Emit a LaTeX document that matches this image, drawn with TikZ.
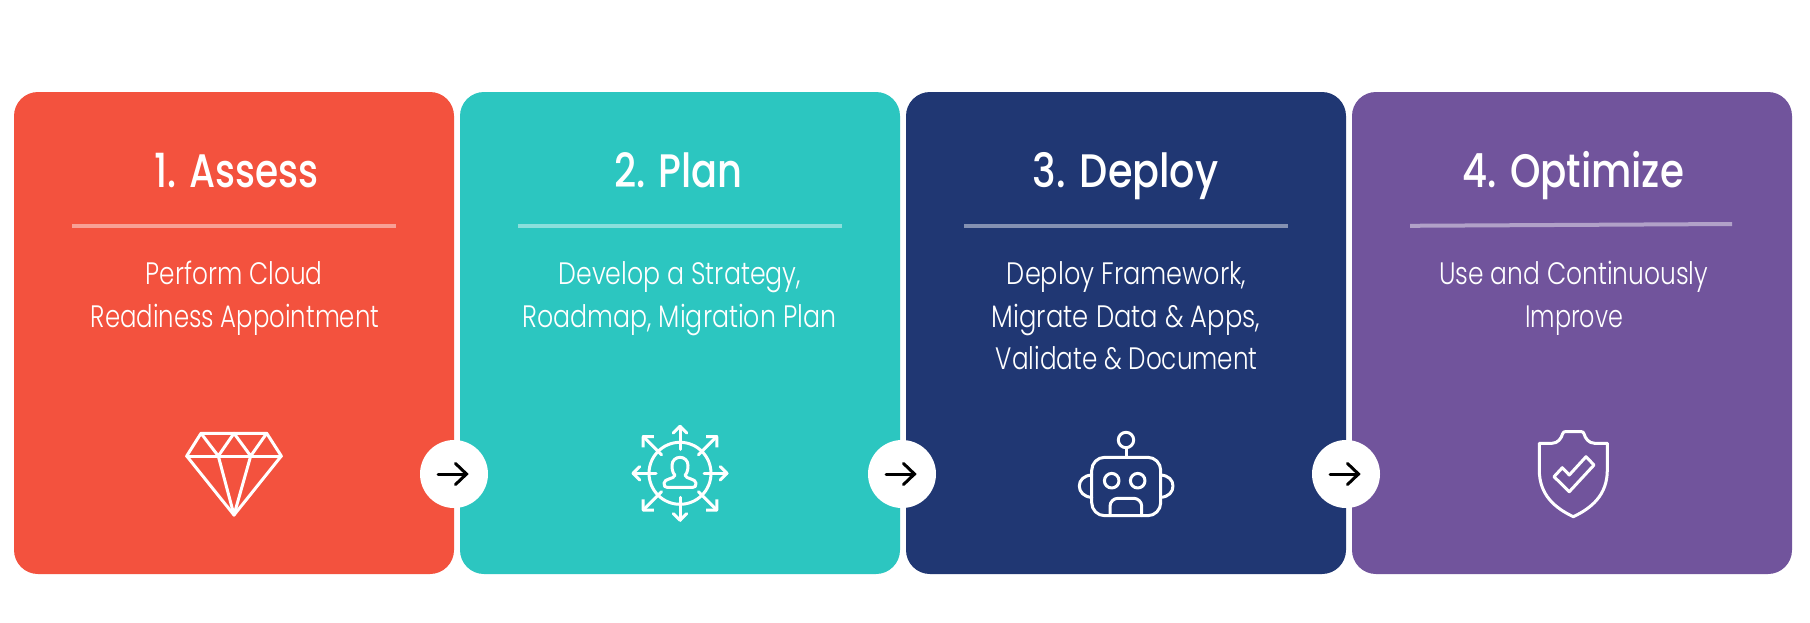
\documentclass[tikz,border=0pt]{standalone}
\usepackage{fontspec}
\usepackage{graphicx}
\setmainfont{Poppins Medium}
\newfontfamily\bodyfont{Poppins Light}
\definecolor{cred}{HTML}{F3523E}
\definecolor{cteal}{HTML}{2CC6C0}
\definecolor{cnavy}{HTML}{203773}
\definecolor{cpurple}{HTML}{71549C}
\newcommand{\fitw}[2]{\sbox0{#2}\pgfmathsetmacro{\fitratio}{#1/\the\wd0}\scalebox{\fitratio}[1]{#2}}
\tikzset{
  cardbox/.style={rectangle,rounded corners=24pt,minimum width=440pt,minimum height=482pt,inner sep=0pt,draw=none,fill=#1},
  titletext/.style={anchor=base west,inner sep=0pt,text=white,font=\fontsize{47}{47}\selectfont},
  bodytext/.style={anchor=base west,inner sep=0pt,text=white,font=\bodyfont\fontsize{31}{31}\selectfont},
  rulebar/.style={white,opacity=.45,line width=4pt},
  icon/.style={white,line width=3pt,line cap=round,line join=round},
  arrowdisc/.style={circle,fill=white,draw=none,minimum size=68pt,inner sep=0pt},
  arrowline/.style={black,line width=3pt,line cap=round,line join=miter}
}
\begin{document}
\begin{tikzpicture}[x=1pt,y=-1pt]
\useasboundingbox (0,0) rectangle (1810,622);
\fill[white] (0,0) rectangle (1810,622);
% cards
\node[cardbox=cred]    (card1) at (234,333) {};
\node[cardbox=cteal]   (card2) at (680,333) {};
\node[cardbox=cnavy]   (card3) at (1126,333) {};
\node[cardbox=cpurple] (card4) at (1572,333) {};
% titles
\node[titletext] (t1) at (154,187) {\fitw{164.3}{1. Assess}};
\node[titletext] (t2) at (614,187) {\fitw{128.7}{2. Plan}};
\node[titletext] (t3) at (1032.7,187) {\fitw{185.6}{3. Deploy}};
\node[titletext] (t4) at (1462,187) {\fitw{222}{4. Optimize}};
% rules
\draw[rulebar] (72,226) -- (396,226);
\draw[rulebar] (518,226) -- (842,226);
\draw[rulebar] (964,226) -- (1288,226);
\draw[rulebar] (1410,225.8) -- (1732,224);
% body
\node[bodytext] (b11) at (145.7,284) {\fitw{176.6}{Perform Cloud}};
\node[bodytext] (b12) at (90.7,327) {\fitw{288.3}{Readiness Appointment}};
\node[bodytext] (b21) at (558.3,284) {\fitw{242.4}{Develop a Strategy,}};
\node[bodytext] (b22) at (522.3,327) {\fitw{313.7}{Roadmap, Migration Plan}};
\node[bodytext] (b31) at (1006.7,284) {\fitw{239.3}{Deploy Framework,}};
\node[bodytext] (b32) at (991.7,327) {\fitw{268.3}{Migrate Data \& Apps,}};
\node[bodytext] (b33) at (995.7,369) {\fitw{261.6}{Validate \& Document}};
\node[bodytext] (b41) at (1439,284) {\fitw{269}{Use and Continuously}};
\node[bodytext] (b42) at (1525,327) {\fitw{98}{Improve}};
% arrow discs
\node[arrowdisc] (d1) at (454,474) {};
\node[arrowdisc] (d2) at (902,474) {};
\node[arrowdisc] (d3) at (1346,474) {};
\foreach \n in {d1,d2,d3}{
  \draw[arrowline] ([xshift=-16pt]\n.center) -- ([xshift=12.5pt]\n.center);
  \draw[arrowline] ([shift={(1.5pt,-10.5pt)}]\n.center) -- ([xshift=12.5pt]\n.center) -- ([shift={(1.5pt,10.5pt)}]\n.center);
}
% diamond
\draw[icon] (201,433.3) -- (266.7,433.3) -- (281.3,456) -- (234,515) -- (186.7,456) -- cycle;
\draw[icon] (186.7,456) -- (281.3,456);
\draw[icon] (201,433.3) -- (218.3,456) -- (234,433.3) -- (250.7,456) -- (266.7,433.3);
\draw[icon] (218.3,456) -- (234,515) -- (250.7,456);
% plan icon
\begin{scope}[shift={(680,473.3)}]
  \draw[icon] (0,0) circle (31);
  \foreach \a in {0,90,180,270}{
    \begin{scope}[rotate=\a]
      \draw[icon] (24,0) -- (47,0);
      \draw[icon] (40.3,-6.7) -- (47,0) -- (40.3,6.7);
    \end{scope}
  }
  \foreach \a in {45,135,225,315}{
    \begin{scope}[rotate=\a]
      \draw[icon] (26,0) -- (52,0);
      \draw[icon,line cap=butt] (44.4,-7.6) -- (52,0) -- (44.4,7.6);
    \end{scope}
  }
  \draw[icon] (-5,2) .. controls (-8,-1) and (-8,-6) .. (-8,-8) .. controls (-8,-13) and (-4,-16) .. (0,-16) .. controls (4,-16) and (8,-13) .. (8,-8) .. controls (8,-6) and (8,-1) .. (5,2) .. controls (6,6) and (16,5) .. (16,10) .. controls (16,13) and (15,14) .. (13,14) -- (-13,14) .. controls (-15,14) and (-16,13) .. (-16,10) .. controls (-16,5) and (-6,6) .. (-5,2) -- cycle;
\end{scope}
% robot
\draw[icon] (1126,440) circle (7.7);
\draw[icon] (1126,447.7) -- (1126,457.3);
\draw[icon,rounded corners=13pt] (1091.7,457.3) rectangle (1160.7,515.7);
\draw[icon] (1111.7,480.7) circle (7.3);
\draw[icon] (1137.7,480.7) circle (7.3);
\draw[icon] (1110,515.7) -- (1110,506.3) arc[start angle=180,end angle=270,radius=8] -- (1133.7,498.3) arc[start angle=270,end angle=360,radius=8] -- (1141.7,515.7);
\draw[icon] (1091.7,475) .. controls (1084,475.5) and (1079.3,480) .. (1079.3,486) .. controls (1079.3,492) and (1084,497) .. (1091.7,497.3);
\draw[icon] (1160.7,475) .. controls (1168.4,475.5) and (1173,480) .. (1173,486) .. controls (1173,492) and (1168.4,497) .. (1160.7,497.3);
% shield
\draw[icon] (1573.3,516.7) .. controls (1555,508) and (1539.3,495) .. (1539.3,470) -- (1539.3,443.3) -- (1552,443.3) .. controls (1558,443.3) and (1561.5,438) .. (1562.5,434) .. controls (1563,432.3) and (1564,431.7) .. (1565,431.7) -- (1581.6,431.7) .. controls (1582.6,431.7) and (1583.6,432.3) .. (1584.1,434) .. controls (1585.1,438) and (1588.6,443.3) .. (1594.6,443.3) -- (1607.3,443.3) -- (1607.3,470) .. controls (1607.3,495) and (1591.6,508) .. (1573.3,516.7) -- cycle;
\draw[icon] (1554,476.7) -- (1562.3,467.7) -- (1569.3,475) -- (1586,456.7) -- (1594,465) -- (1569.3,491.7) -- cycle;
\end{tikzpicture}
\end{document}
